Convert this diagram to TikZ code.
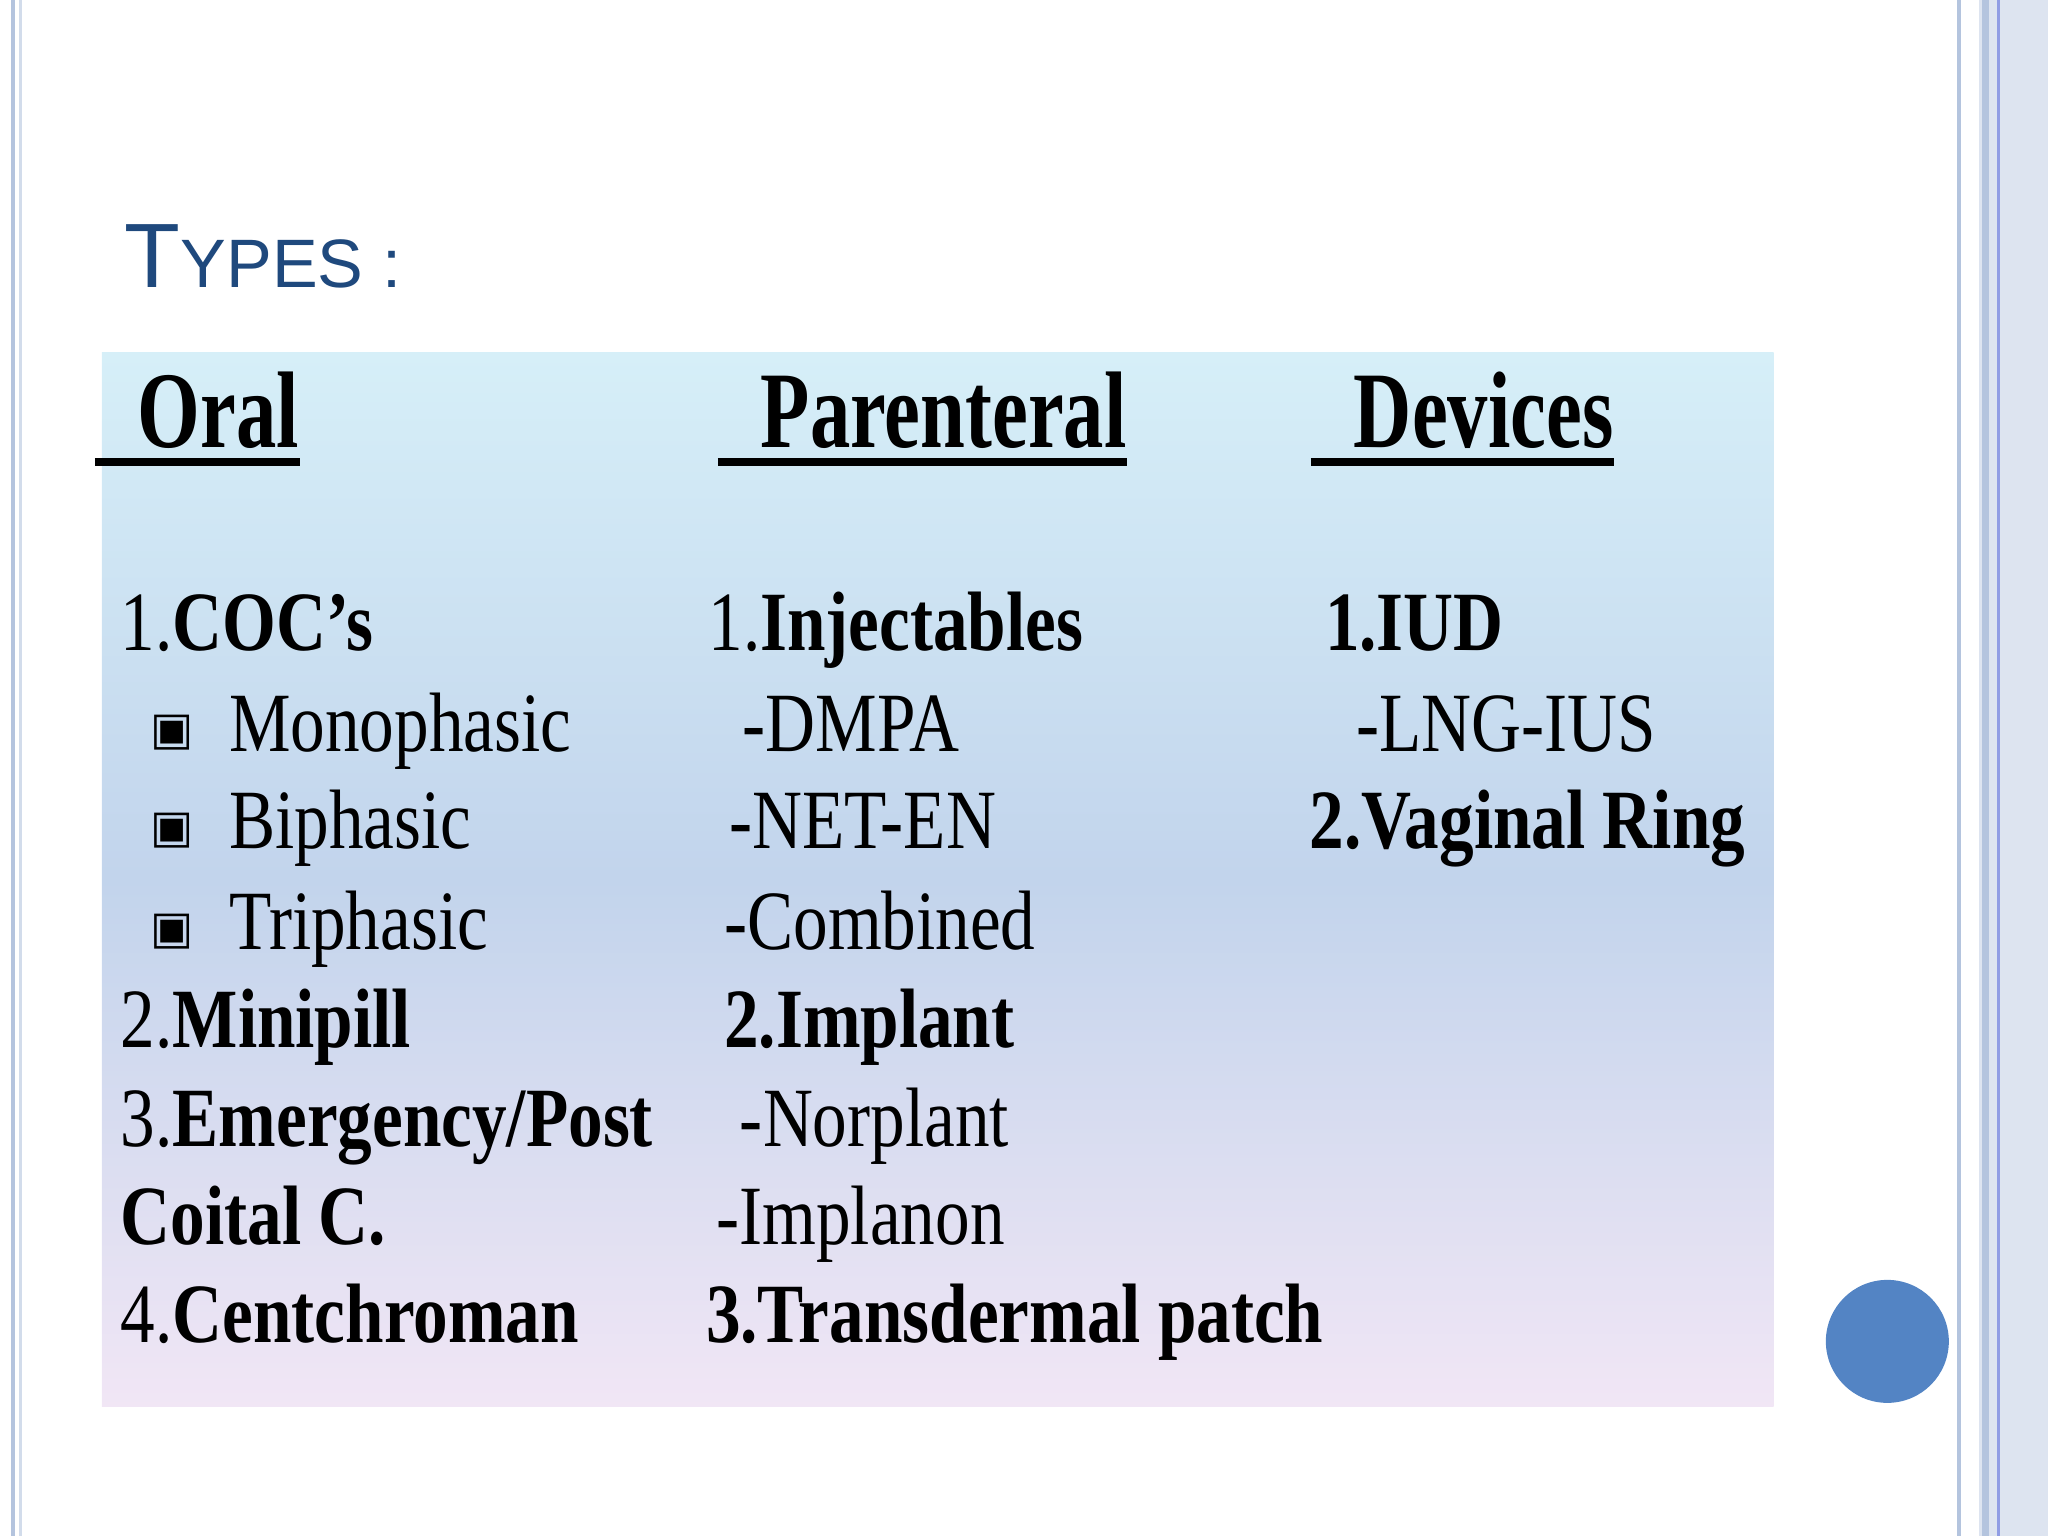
\documentclass[tikz,border=0pt]{standalone}
\usepackage{fontspec}
\setmainfont{Liberation Serif}[FakeStretch=0.82]
\newfontfamily\headfont{Liberation Serif}[FakeStretch=0.74]
\newfontfamily\titlefont{Liberation Sans}
\newfontfamily\symfont{DejaVu Sans}
\definecolor{titleblue}{HTML}{1F497D}
\definecolor{boxtop}{HTML}{D6EFF8}
\definecolor{boxmid}{HTML}{C2D4EC}
\definecolor{boxbot}{HTML}{F1E6F5}
\definecolor{edgeblue}{HTML}{B4C4DE}
\definecolor{dotblue}{HTML}{5384C4}
\begin{document}
\begin{tikzpicture}[x=0.01306cm,y=-0.01306cm,
  head/.style={anchor=base west,inner sep=0pt,font=\headfont\fontsize{31}{31}\selectfont\bfseries},
  item/.style={anchor=base west,inner sep=0pt,font=\fontsize{24}{24}\selectfont},
  bulletmark/.style={anchor=base west,inner sep=0pt,font=\symfont\fontsize{13}{13}\selectfont}]
\useasboundingbox (0,0) rectangle (1568,1176);

% frame of the slide
\draw[edgeblue,line width=1.2pt] (10,0) -- (10,1176);
\draw[edgeblue!60,line width=0.8pt] (16,0) -- (16,1176);
\draw[edgeblue,line width=1.2pt] (1500,0) -- (1500,1176);
\fill[edgeblue!45] (1515,0) rectangle (1568,1176);
\draw[edgeblue,line width=2pt] (1520,0) -- (1520,1176);
\draw[edgeblue!80!blue,line width=1pt] (1530,0) -- (1530,1176);

% title
\node[anchor=base west,inner sep=0pt,text=titleblue] (title) at (95,220)
  {\titlefont\fontsize{26}{26}\selectfont T\fontsize{19.5}{19.5}\selectfont YPES :};

% coloured panel
\shade[top color=boxtop,bottom color=boxbot,middle color=boxmid] (78,270) rectangle (1358,1077);

% headers
\node[head] (oral) at (105,343) {Oral};
\node[head] (paren) at (582,343) {Parenteral};
\node[head] (dev) at (1036,343) {Devices};
\foreach \h in {oral,paren,dev}
  \draw[line width=2.2pt] ([xshift=-12pt,yshift=-4pt]\h.base west) -- ([yshift=-4pt]\h.base east);

% oral column
\node[item] (o1) at (92,498) {1.\textbf{COC’s}};
\node[bulletmark] (b1) at (115,570) {▣};
\node[item] (o2) at (175,575) {Monophasic};
\node[bulletmark] (b2) at (115,645) {▣};
\node[item] (o3) at (175,650) {Biphasic};
\node[bulletmark] (b3) at (115,722) {▣};
\node[item] (o4) at (175,727) {Triphasic};
\node[item] (o5) at (92,802) {2.\textbf{Minipill}};
\node[item] (o6) at (92,878) {3.\textbf{Emergency/Post}};
\node[item] (o7) at (92,953) {\textbf{Coital C.}};
\node[item] (o8) at (92,1028) {4.\textbf{Centchroman}};

% parenteral column
\node[item] (p1) at (542,498) {1.\textbf{Injectables}};
\node[item] (p2) at (568,575) {-DMPA};
\node[item] (p3) at (558,650) {-NET-EN};
\node[item] (p4) at (554,727) {-Combined};
\node[item] (p5) at (554,802) {\textbf{2.Implant}};
\node[item] (p6) at (566,878) {-Norplant};
\node[item] (p7) at (548,953) {-Implanon};
\node[item] (p8) at (540,1028) {\textbf{3.Transdermal patch}};

% devices column
\node[item] (d1) at (1014,498) {\textbf{1.IUD}};
\node[item] (d2) at (1038,575) {-LNG-IUS};
\node[item] (d3) at (1002,650) {\textbf{2.Vaginal Ring}};

% round mark
\node[circle,fill=dotblue,minimum size=1.23cm,inner sep=0pt] (dot) at (1445,1027) {};
\end{tikzpicture}
\end{document}
